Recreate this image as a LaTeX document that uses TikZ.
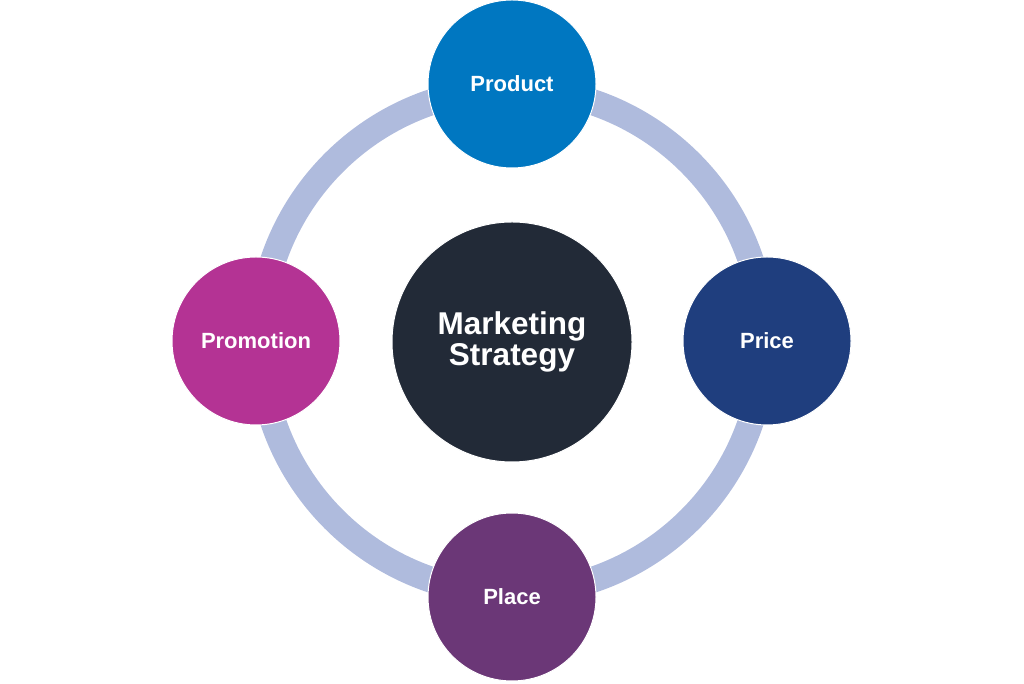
\documentclass[tikz,border=0pt]{standalone}
\usepackage{fontspec}
\setmainfont{Liberation Sans}
\definecolor{ringc}{HTML}{AFBBDD}
\definecolor{prodc}{HTML}{0077C1}
\definecolor{pricec}{HTML}{1F3E7E}
\definecolor{placec}{HTML}{6B3777}
\definecolor{promoc}{HTML}{B43394}
\definecolor{centc}{HTML}{222A37}
\begin{document}
\begin{tikzpicture}[x=1pt,y=1pt,
  item/.style={circle,minimum size=168pt,inner sep=0pt,draw=white,line width=1pt,text=white,font=\fontsize{22}{26}\selectfont\bfseries},
  hub/.style={circle,minimum size=240pt,inner sep=0pt,fill=centc,draw=white,line width=1pt,text=white,align=center,font=\fontsize{31.5}{31}\selectfont\bfseries}]
\useasboundingbox (0,0) rectangle (1024,684);
\coordinate (mid) at (512,343);
\draw[ringc,line width=26pt] (mid) circle (252);
\node[hub] (center) at (512,342) {Marketing\\Strategy};
\node[item,fill=prodc] (product) at (512,600) {Product};
\node[item,fill=pricec] (price) at (767,343) {Price};
\node[item,fill=placec] (place) at (512,87) {Place};
\node[item,fill=promoc] (promotion) at (256,343) {Promotion};
\end{tikzpicture}
\end{document}
